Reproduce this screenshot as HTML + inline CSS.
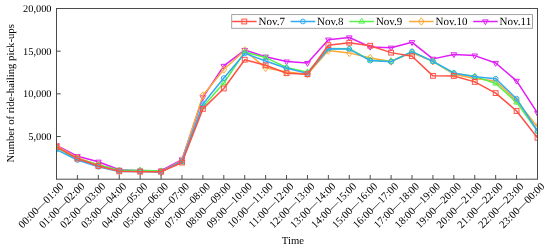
<!DOCTYPE html>
<html><head><meta charset="utf-8"><style>
html,body{margin:0;padding:0;background:#fff;}
svg{display:block;text-rendering:geometricPrecision;}
.t{font-family:"Liberation Serif","Times New Roman",serif;font-size:11px;fill:#000;}
.xt{font-family:"Liberation Serif","Times New Roman",serif;font-size:10.67px;fill:#000;}
.yt{font-family:"Liberation Serif","Times New Roman",serif;font-size:10.35px;fill:#000;}
.yl{font-family:"Liberation Serif","Times New Roman",serif;font-size:10.67px;fill:#000;}
.l{font-family:"Liberation Serif","Times New Roman",serif;font-size:10.67px;fill:#000;}
</style></head><body>
<svg width="550" height="249" viewBox="0 0 550 249">
<defs><clipPath id="ax"><rect x="56.5" y="8.5" width="481.0" height="170.7"/></clipPath></defs>
<g clip-path="url(#ax)">
<polyline points="56.50,145.32 77.41,156.16 98.33,161.79 119.24,169.81 140.15,170.66 161.07,170.66 181.98,159.57 202.89,97.43 223.80,65.94 244.72,50.07 265.63,56.72 286.54,61.59 307.46,63.12 328.37,39.65 349.28,37.52 370.20,46.91 391.11,47.76 412.02,42.30 432.93,58.86 453.85,54.42 474.76,55.61 495.67,63.04 516.59,80.88 537.50,113.05" fill="none" stroke="#e01ef5" stroke-width="1.5" stroke-linejoin="round"/>
<polygon points="56.50,148.55 53.70,143.70 59.30,143.70" fill="none" stroke="#e01ef5" stroke-width="1.0"/>
<polygon points="77.41,159.39 74.61,154.54 80.21,154.54" fill="none" stroke="#e01ef5" stroke-width="1.0"/>
<polygon points="98.33,165.02 95.53,160.17 101.13,160.17" fill="none" stroke="#e01ef5" stroke-width="1.0"/>
<polygon points="119.24,173.04 116.44,168.19 122.04,168.19" fill="none" stroke="#e01ef5" stroke-width="1.0"/>
<polygon points="140.15,173.90 137.35,169.05 142.95,169.05" fill="none" stroke="#e01ef5" stroke-width="1.0"/>
<polygon points="161.07,173.90 158.27,169.05 163.87,169.05" fill="none" stroke="#e01ef5" stroke-width="1.0"/>
<polygon points="181.98,162.80 179.18,157.95 184.78,157.95" fill="none" stroke="#e01ef5" stroke-width="1.0"/>
<polygon points="202.89,100.67 200.09,95.82 205.69,95.82" fill="none" stroke="#e01ef5" stroke-width="1.0"/>
<polygon points="223.80,69.17 221.00,64.32 226.60,64.32" fill="none" stroke="#e01ef5" stroke-width="1.0"/>
<polygon points="244.72,53.30 241.92,48.45 247.52,48.45" fill="none" stroke="#e01ef5" stroke-width="1.0"/>
<polygon points="265.63,59.96 262.83,55.11 268.43,55.11" fill="none" stroke="#e01ef5" stroke-width="1.0"/>
<polygon points="286.54,64.82 283.74,59.97 289.34,59.97" fill="none" stroke="#e01ef5" stroke-width="1.0"/>
<polygon points="307.46,66.36 304.66,61.51 310.26,61.51" fill="none" stroke="#e01ef5" stroke-width="1.0"/>
<polygon points="328.37,42.89 325.57,38.04 331.17,38.04" fill="none" stroke="#e01ef5" stroke-width="1.0"/>
<polygon points="349.28,40.75 346.48,35.90 352.08,35.90" fill="none" stroke="#e01ef5" stroke-width="1.0"/>
<polygon points="370.20,50.14 367.40,45.29 373.00,45.29" fill="none" stroke="#e01ef5" stroke-width="1.0"/>
<polygon points="391.11,50.99 388.31,46.14 393.91,46.14" fill="none" stroke="#e01ef5" stroke-width="1.0"/>
<polygon points="412.02,45.53 409.22,40.68 414.82,40.68" fill="none" stroke="#e01ef5" stroke-width="1.0"/>
<polygon points="432.93,62.09 430.13,57.24 435.73,57.24" fill="none" stroke="#e01ef5" stroke-width="1.0"/>
<polygon points="453.85,57.65 451.05,52.80 456.65,52.80" fill="none" stroke="#e01ef5" stroke-width="1.0"/>
<polygon points="474.76,58.85 471.96,54.00 477.56,54.00" fill="none" stroke="#e01ef5" stroke-width="1.0"/>
<polygon points="495.67,66.27 492.87,61.42 498.47,61.42" fill="none" stroke="#e01ef5" stroke-width="1.0"/>
<polygon points="516.59,84.11 513.79,79.26 519.39,79.26" fill="none" stroke="#e01ef5" stroke-width="1.0"/>
<polygon points="537.50,116.29 534.70,111.44 540.30,111.44" fill="none" stroke="#e01ef5" stroke-width="1.0"/>
<polyline points="56.50,145.91 77.41,157.86 98.33,164.69 119.24,171.09 140.15,171.09 161.07,171.95 181.98,160.42 202.89,95.56 223.80,69.53 244.72,50.49 265.63,67.82 286.54,72.09 307.46,74.22 328.37,50.49 349.28,52.88 370.20,58.00 391.11,61.42 412.02,52.88 432.93,61.33 453.85,74.22 474.76,78.49 495.67,81.05 516.59,100.68 537.50,126.71" fill="none" stroke="#faa838" stroke-width="1.5" stroke-linejoin="round"/>
<polygon points="56.50,142.21 59.40,145.91 56.50,149.61 53.60,145.91" fill="none" stroke="#faa838" stroke-width="1.0"/>
<polygon points="77.41,154.16 80.31,157.86 77.41,161.56 74.51,157.86" fill="none" stroke="#faa838" stroke-width="1.0"/>
<polygon points="98.33,160.99 101.23,164.69 98.33,168.39 95.43,164.69" fill="none" stroke="#faa838" stroke-width="1.0"/>
<polygon points="119.24,167.39 122.14,171.09 119.24,174.79 116.34,171.09" fill="none" stroke="#faa838" stroke-width="1.0"/>
<polygon points="140.15,167.39 143.05,171.09 140.15,174.79 137.25,171.09" fill="none" stroke="#faa838" stroke-width="1.0"/>
<polygon points="161.07,168.25 163.97,171.95 161.07,175.65 158.17,171.95" fill="none" stroke="#faa838" stroke-width="1.0"/>
<polygon points="181.98,156.72 184.88,160.42 181.98,164.12 179.08,160.42" fill="none" stroke="#faa838" stroke-width="1.0"/>
<polygon points="202.89,91.86 205.79,95.56 202.89,99.26 199.99,95.56" fill="none" stroke="#faa838" stroke-width="1.0"/>
<polygon points="223.80,65.83 226.70,69.53 223.80,73.23 220.90,69.53" fill="none" stroke="#faa838" stroke-width="1.0"/>
<polygon points="244.72,46.79 247.62,50.49 244.72,54.19 241.82,50.49" fill="none" stroke="#faa838" stroke-width="1.0"/>
<polygon points="265.63,64.12 268.53,67.82 265.63,71.52 262.73,67.82" fill="none" stroke="#faa838" stroke-width="1.0"/>
<polygon points="286.54,68.39 289.44,72.09 286.54,75.79 283.64,72.09" fill="none" stroke="#faa838" stroke-width="1.0"/>
<polygon points="307.46,70.52 310.36,74.22 307.46,77.92 304.56,74.22" fill="none" stroke="#faa838" stroke-width="1.0"/>
<polygon points="328.37,46.79 331.27,50.49 328.37,54.19 325.47,50.49" fill="none" stroke="#faa838" stroke-width="1.0"/>
<polygon points="349.28,49.18 352.18,52.88 349.28,56.58 346.38,52.88" fill="none" stroke="#faa838" stroke-width="1.0"/>
<polygon points="370.20,54.30 373.10,58.00 370.20,61.70 367.30,58.00" fill="none" stroke="#faa838" stroke-width="1.0"/>
<polygon points="391.11,57.72 394.01,61.42 391.11,65.12 388.21,61.42" fill="none" stroke="#faa838" stroke-width="1.0"/>
<polygon points="412.02,49.18 414.92,52.88 412.02,56.58 409.12,52.88" fill="none" stroke="#faa838" stroke-width="1.0"/>
<polygon points="432.93,57.63 435.83,61.33 432.93,65.03 430.03,61.33" fill="none" stroke="#faa838" stroke-width="1.0"/>
<polygon points="453.85,70.52 456.75,74.22 453.85,77.92 450.95,74.22" fill="none" stroke="#faa838" stroke-width="1.0"/>
<polygon points="474.76,74.79 477.66,78.49 474.76,82.19 471.86,78.49" fill="none" stroke="#faa838" stroke-width="1.0"/>
<polygon points="495.67,77.35 498.57,81.05 495.67,84.75 492.77,81.05" fill="none" stroke="#faa838" stroke-width="1.0"/>
<polygon points="516.59,96.98 519.49,100.68 516.59,104.38 513.69,100.68" fill="none" stroke="#faa838" stroke-width="1.0"/>
<polygon points="537.50,123.01 540.40,126.71 537.50,130.41 534.60,126.71" fill="none" stroke="#faa838" stroke-width="1.0"/>
<polyline points="56.50,147.62 77.41,158.72 98.33,164.69 119.24,170.24 140.15,170.24 161.07,171.09 181.98,162.13 202.89,106.65 223.80,83.01 244.72,52.03 265.63,57.58 286.54,67.39 307.46,72.17 328.37,48.53 349.28,48.70 370.20,60.14 391.11,61.42 412.02,51.69 432.93,61.33 453.85,73.37 474.76,76.35 495.67,83.52 516.59,102.38 537.50,131.40" fill="none" stroke="#55f048" stroke-width="1.5" stroke-linejoin="round"/>
<polygon points="56.50,144.39 53.70,149.24 59.30,149.24" fill="none" stroke="#55f048" stroke-width="1.0"/>
<polygon points="77.41,155.48 74.61,160.33 80.21,160.33" fill="none" stroke="#55f048" stroke-width="1.0"/>
<polygon points="98.33,161.46 95.53,166.31 101.13,166.31" fill="none" stroke="#55f048" stroke-width="1.0"/>
<polygon points="119.24,167.01 116.44,171.85 122.04,171.85" fill="none" stroke="#55f048" stroke-width="1.0"/>
<polygon points="140.15,167.01 137.35,171.85 142.95,171.85" fill="none" stroke="#55f048" stroke-width="1.0"/>
<polygon points="161.07,167.86 158.27,172.71 163.87,172.71" fill="none" stroke="#55f048" stroke-width="1.0"/>
<polygon points="181.98,158.90 179.18,163.75 184.78,163.75" fill="none" stroke="#55f048" stroke-width="1.0"/>
<polygon points="202.89,103.42 200.09,108.27 205.69,108.27" fill="none" stroke="#55f048" stroke-width="1.0"/>
<polygon points="223.80,79.78 221.00,84.63 226.60,84.63" fill="none" stroke="#55f048" stroke-width="1.0"/>
<polygon points="244.72,48.80 241.92,53.65 247.52,53.65" fill="none" stroke="#55f048" stroke-width="1.0"/>
<polygon points="265.63,54.34 262.83,59.19 268.43,59.19" fill="none" stroke="#55f048" stroke-width="1.0"/>
<polygon points="286.54,64.16 283.74,69.01 289.34,69.01" fill="none" stroke="#55f048" stroke-width="1.0"/>
<polygon points="307.46,68.94 304.66,73.79 310.26,73.79" fill="none" stroke="#55f048" stroke-width="1.0"/>
<polygon points="328.37,45.30 325.57,50.15 331.17,50.15" fill="none" stroke="#55f048" stroke-width="1.0"/>
<polygon points="349.28,45.47 346.48,50.32 352.08,50.32" fill="none" stroke="#55f048" stroke-width="1.0"/>
<polygon points="370.20,56.90 367.40,61.75 373.00,61.75" fill="none" stroke="#55f048" stroke-width="1.0"/>
<polygon points="391.11,58.18 388.31,63.03 393.91,63.03" fill="none" stroke="#55f048" stroke-width="1.0"/>
<polygon points="412.02,48.45 409.22,53.30 414.82,53.30" fill="none" stroke="#55f048" stroke-width="1.0"/>
<polygon points="432.93,58.10 430.13,62.95 435.73,62.95" fill="none" stroke="#55f048" stroke-width="1.0"/>
<polygon points="453.85,70.13 451.05,74.98 456.65,74.98" fill="none" stroke="#55f048" stroke-width="1.0"/>
<polygon points="474.76,73.12 471.96,77.97 477.56,77.97" fill="none" stroke="#55f048" stroke-width="1.0"/>
<polygon points="495.67,80.29 492.87,85.14 498.47,85.14" fill="none" stroke="#55f048" stroke-width="1.0"/>
<polygon points="516.59,99.15 513.79,104.00 519.39,104.00" fill="none" stroke="#55f048" stroke-width="1.0"/>
<polygon points="537.50,128.17 534.70,133.02 540.30,133.02" fill="none" stroke="#55f048" stroke-width="1.0"/>
<polyline points="56.50,149.58 77.41,160.00 98.33,166.82 119.24,171.52 140.15,171.52 161.07,171.95 181.98,161.28 202.89,104.09 223.80,78.06 244.72,53.39 265.63,60.99 286.54,68.24 307.46,73.37 328.37,48.70 349.28,49.04 370.20,60.56 391.11,61.67 412.02,51.69 432.93,61.33 453.85,72.94 474.76,76.78 495.67,78.74 516.59,98.71 537.50,130.98" fill="none" stroke="#30aaf2" stroke-width="1.5" stroke-linejoin="round"/>
<circle cx="56.50" cy="149.58" r="2.40" fill="none" stroke="#30aaf2" stroke-width="1.0"/>
<circle cx="77.41" cy="160.00" r="2.40" fill="none" stroke="#30aaf2" stroke-width="1.0"/>
<circle cx="98.33" cy="166.82" r="2.40" fill="none" stroke="#30aaf2" stroke-width="1.0"/>
<circle cx="119.24" cy="171.52" r="2.40" fill="none" stroke="#30aaf2" stroke-width="1.0"/>
<circle cx="140.15" cy="171.52" r="2.40" fill="none" stroke="#30aaf2" stroke-width="1.0"/>
<circle cx="161.07" cy="171.95" r="2.40" fill="none" stroke="#30aaf2" stroke-width="1.0"/>
<circle cx="181.98" cy="161.28" r="2.40" fill="none" stroke="#30aaf2" stroke-width="1.0"/>
<circle cx="202.89" cy="104.09" r="2.40" fill="none" stroke="#30aaf2" stroke-width="1.0"/>
<circle cx="223.80" cy="78.06" r="2.40" fill="none" stroke="#30aaf2" stroke-width="1.0"/>
<circle cx="244.72" cy="53.39" r="2.40" fill="none" stroke="#30aaf2" stroke-width="1.0"/>
<circle cx="265.63" cy="60.99" r="2.40" fill="none" stroke="#30aaf2" stroke-width="1.0"/>
<circle cx="286.54" cy="68.24" r="2.40" fill="none" stroke="#30aaf2" stroke-width="1.0"/>
<circle cx="307.46" cy="73.37" r="2.40" fill="none" stroke="#30aaf2" stroke-width="1.0"/>
<circle cx="328.37" cy="48.70" r="2.40" fill="none" stroke="#30aaf2" stroke-width="1.0"/>
<circle cx="349.28" cy="49.04" r="2.40" fill="none" stroke="#30aaf2" stroke-width="1.0"/>
<circle cx="370.20" cy="60.56" r="2.40" fill="none" stroke="#30aaf2" stroke-width="1.0"/>
<circle cx="391.11" cy="61.67" r="2.40" fill="none" stroke="#30aaf2" stroke-width="1.0"/>
<circle cx="412.02" cy="51.69" r="2.40" fill="none" stroke="#30aaf2" stroke-width="1.0"/>
<circle cx="432.93" cy="61.33" r="2.40" fill="none" stroke="#30aaf2" stroke-width="1.0"/>
<circle cx="453.85" cy="72.94" r="2.40" fill="none" stroke="#30aaf2" stroke-width="1.0"/>
<circle cx="474.76" cy="76.78" r="2.40" fill="none" stroke="#30aaf2" stroke-width="1.0"/>
<circle cx="495.67" cy="78.74" r="2.40" fill="none" stroke="#30aaf2" stroke-width="1.0"/>
<circle cx="516.59" cy="98.71" r="2.40" fill="none" stroke="#30aaf2" stroke-width="1.0"/>
<circle cx="537.50" cy="130.98" r="2.40" fill="none" stroke="#30aaf2" stroke-width="1.0"/>
<polyline points="56.50,146.94 77.41,158.55 98.33,165.97 119.24,171.26 140.15,171.69 161.07,171.69 181.98,162.56 202.89,108.87 223.80,88.47 244.72,59.71 265.63,65.26 286.54,73.20 307.46,74.22 328.37,45.20 349.28,42.73 370.20,45.71 391.11,52.63 412.02,56.21 432.93,75.84 453.85,75.93 474.76,81.90 495.67,93.08 516.59,111.01 537.50,137.81" fill="none" stroke="#ff5046" stroke-width="1.5" stroke-linejoin="round"/>
<rect x="54.10" y="144.54" width="4.80" height="4.80" fill="none" stroke="#ff5046" stroke-width="1.0"/>
<rect x="75.01" y="156.15" width="4.80" height="4.80" fill="none" stroke="#ff5046" stroke-width="1.0"/>
<rect x="95.93" y="163.57" width="4.80" height="4.80" fill="none" stroke="#ff5046" stroke-width="1.0"/>
<rect x="116.84" y="168.86" width="4.80" height="4.80" fill="none" stroke="#ff5046" stroke-width="1.0"/>
<rect x="137.75" y="169.29" width="4.80" height="4.80" fill="none" stroke="#ff5046" stroke-width="1.0"/>
<rect x="158.67" y="169.29" width="4.80" height="4.80" fill="none" stroke="#ff5046" stroke-width="1.0"/>
<rect x="179.58" y="160.16" width="4.80" height="4.80" fill="none" stroke="#ff5046" stroke-width="1.0"/>
<rect x="200.49" y="106.47" width="4.80" height="4.80" fill="none" stroke="#ff5046" stroke-width="1.0"/>
<rect x="221.40" y="86.07" width="4.80" height="4.80" fill="none" stroke="#ff5046" stroke-width="1.0"/>
<rect x="242.32" y="57.31" width="4.80" height="4.80" fill="none" stroke="#ff5046" stroke-width="1.0"/>
<rect x="263.23" y="62.86" width="4.80" height="4.80" fill="none" stroke="#ff5046" stroke-width="1.0"/>
<rect x="284.14" y="70.80" width="4.80" height="4.80" fill="none" stroke="#ff5046" stroke-width="1.0"/>
<rect x="305.06" y="71.82" width="4.80" height="4.80" fill="none" stroke="#ff5046" stroke-width="1.0"/>
<rect x="325.97" y="42.80" width="4.80" height="4.80" fill="none" stroke="#ff5046" stroke-width="1.0"/>
<rect x="346.88" y="40.33" width="4.80" height="4.80" fill="none" stroke="#ff5046" stroke-width="1.0"/>
<rect x="367.80" y="43.31" width="4.80" height="4.80" fill="none" stroke="#ff5046" stroke-width="1.0"/>
<rect x="388.71" y="50.23" width="4.80" height="4.80" fill="none" stroke="#ff5046" stroke-width="1.0"/>
<rect x="409.62" y="53.81" width="4.80" height="4.80" fill="none" stroke="#ff5046" stroke-width="1.0"/>
<rect x="430.53" y="73.44" width="4.80" height="4.80" fill="none" stroke="#ff5046" stroke-width="1.0"/>
<rect x="451.45" y="73.53" width="4.80" height="4.80" fill="none" stroke="#ff5046" stroke-width="1.0"/>
<rect x="472.36" y="79.50" width="4.80" height="4.80" fill="none" stroke="#ff5046" stroke-width="1.0"/>
<rect x="493.27" y="90.68" width="4.80" height="4.80" fill="none" stroke="#ff5046" stroke-width="1.0"/>
<rect x="514.19" y="108.61" width="4.80" height="4.80" fill="none" stroke="#ff5046" stroke-width="1.0"/>
<rect x="535.10" y="135.41" width="4.80" height="4.80" fill="none" stroke="#ff5046" stroke-width="1.0"/>
</g>
<rect x="56.5" y="8.5" width="481.0" height="170.7" fill="none" stroke="#4a4a4a" stroke-width="1"/>
<line x1="56.5" y1="136.52" x2="60.7" y2="136.52" stroke="#4a4a4a" stroke-width="1"/>
<text x="51.5" y="139.92" text-anchor="end" class="yt">5,000</text>
<line x1="56.5" y1="93.85" x2="60.7" y2="93.85" stroke="#4a4a4a" stroke-width="1"/>
<text x="51.5" y="97.25" text-anchor="end" class="yt">10,000</text>
<line x1="56.5" y1="51.17" x2="60.7" y2="51.17" stroke="#4a4a4a" stroke-width="1"/>
<text x="51.5" y="54.57" text-anchor="end" class="yt">15,000</text>
<line x1="56.5" y1="8.50" x2="60.7" y2="8.50" stroke="#4a4a4a" stroke-width="1"/>
<text x="51.5" y="11.90" text-anchor="end" class="yt">20,000</text>
<line x1="56.50" y1="179.2" x2="56.50" y2="175.0" stroke="#4a4a4a" stroke-width="1"/>
<text transform="translate(64.30,186.90) rotate(-45)" text-anchor="end" class="xt">00:00—01:00</text>
<line x1="77.41" y1="179.2" x2="77.41" y2="175.0" stroke="#4a4a4a" stroke-width="1"/>
<text transform="translate(85.21,186.90) rotate(-45)" text-anchor="end" class="xt">01:00—02:00</text>
<line x1="98.33" y1="179.2" x2="98.33" y2="175.0" stroke="#4a4a4a" stroke-width="1"/>
<text transform="translate(106.13,186.90) rotate(-45)" text-anchor="end" class="xt">02:00—03:00</text>
<line x1="119.24" y1="179.2" x2="119.24" y2="175.0" stroke="#4a4a4a" stroke-width="1"/>
<text transform="translate(127.04,186.90) rotate(-45)" text-anchor="end" class="xt">03:00—04:00</text>
<line x1="140.15" y1="179.2" x2="140.15" y2="175.0" stroke="#4a4a4a" stroke-width="1"/>
<text transform="translate(147.95,186.90) rotate(-45)" text-anchor="end" class="xt">04:00—05:00</text>
<line x1="161.07" y1="179.2" x2="161.07" y2="175.0" stroke="#4a4a4a" stroke-width="1"/>
<text transform="translate(168.87,186.90) rotate(-45)" text-anchor="end" class="xt">05:00—06:00</text>
<line x1="181.98" y1="179.2" x2="181.98" y2="175.0" stroke="#4a4a4a" stroke-width="1"/>
<text transform="translate(189.78,186.90) rotate(-45)" text-anchor="end" class="xt">06:00—07:00</text>
<line x1="202.89" y1="179.2" x2="202.89" y2="175.0" stroke="#4a4a4a" stroke-width="1"/>
<text transform="translate(210.69,186.90) rotate(-45)" text-anchor="end" class="xt">07:00—08:00</text>
<line x1="223.80" y1="179.2" x2="223.80" y2="175.0" stroke="#4a4a4a" stroke-width="1"/>
<text transform="translate(231.60,186.90) rotate(-45)" text-anchor="end" class="xt">08:00—09:00</text>
<line x1="244.72" y1="179.2" x2="244.72" y2="175.0" stroke="#4a4a4a" stroke-width="1"/>
<text transform="translate(252.52,186.90) rotate(-45)" text-anchor="end" class="xt">09:00—10:00</text>
<line x1="265.63" y1="179.2" x2="265.63" y2="175.0" stroke="#4a4a4a" stroke-width="1"/>
<text transform="translate(273.43,186.90) rotate(-45)" text-anchor="end" class="xt">10:00—11:00</text>
<line x1="286.54" y1="179.2" x2="286.54" y2="175.0" stroke="#4a4a4a" stroke-width="1"/>
<text transform="translate(294.34,186.90) rotate(-45)" text-anchor="end" class="xt">11:00—12:00</text>
<line x1="307.46" y1="179.2" x2="307.46" y2="175.0" stroke="#4a4a4a" stroke-width="1"/>
<text transform="translate(315.26,186.90) rotate(-45)" text-anchor="end" class="xt">12:00—13:00</text>
<line x1="328.37" y1="179.2" x2="328.37" y2="175.0" stroke="#4a4a4a" stroke-width="1"/>
<text transform="translate(336.17,186.90) rotate(-45)" text-anchor="end" class="xt">13:00—14:00</text>
<line x1="349.28" y1="179.2" x2="349.28" y2="175.0" stroke="#4a4a4a" stroke-width="1"/>
<text transform="translate(357.08,186.90) rotate(-45)" text-anchor="end" class="xt">14:00—15:00</text>
<line x1="370.20" y1="179.2" x2="370.20" y2="175.0" stroke="#4a4a4a" stroke-width="1"/>
<text transform="translate(378.00,186.90) rotate(-45)" text-anchor="end" class="xt">15:00—16:00</text>
<line x1="391.11" y1="179.2" x2="391.11" y2="175.0" stroke="#4a4a4a" stroke-width="1"/>
<text transform="translate(398.91,186.90) rotate(-45)" text-anchor="end" class="xt">16:00—17:00</text>
<line x1="412.02" y1="179.2" x2="412.02" y2="175.0" stroke="#4a4a4a" stroke-width="1"/>
<text transform="translate(419.82,186.90) rotate(-45)" text-anchor="end" class="xt">17:00—18:00</text>
<line x1="432.93" y1="179.2" x2="432.93" y2="175.0" stroke="#4a4a4a" stroke-width="1"/>
<text transform="translate(440.73,186.90) rotate(-45)" text-anchor="end" class="xt">18:00—19:00</text>
<line x1="453.85" y1="179.2" x2="453.85" y2="175.0" stroke="#4a4a4a" stroke-width="1"/>
<text transform="translate(461.65,186.90) rotate(-45)" text-anchor="end" class="xt">19:00—20:00</text>
<line x1="474.76" y1="179.2" x2="474.76" y2="175.0" stroke="#4a4a4a" stroke-width="1"/>
<text transform="translate(482.56,186.90) rotate(-45)" text-anchor="end" class="xt">20:00—21:00</text>
<line x1="495.67" y1="179.2" x2="495.67" y2="175.0" stroke="#4a4a4a" stroke-width="1"/>
<text transform="translate(503.47,186.90) rotate(-45)" text-anchor="end" class="xt">21:00—22:00</text>
<line x1="516.59" y1="179.2" x2="516.59" y2="175.0" stroke="#4a4a4a" stroke-width="1"/>
<text transform="translate(524.39,186.90) rotate(-45)" text-anchor="end" class="xt">22:00—23:00</text>
<line x1="537.50" y1="179.2" x2="537.50" y2="175.0" stroke="#4a4a4a" stroke-width="1"/>
<text transform="translate(545.30,186.90) rotate(-45)" text-anchor="end" class="xt">23:00—00:00</text>
<text x="292.9" y="244.1" text-anchor="middle" class="l">Time</text>
<text transform="translate(14.2,93.3) rotate(-90)" text-anchor="middle" class="yl">Number of ride-hailing pick-ups</text>
<rect x="231.7" y="14.6" width="300.8" height="13.7" fill="#fff" stroke="#999" stroke-width="0.9"/>
<line x1="232.1" y1="21.5" x2="256.6" y2="21.5" stroke="#ff5046" stroke-width="1.5"/>
<rect x="241.90" y="19.10" width="4.80" height="4.80" fill="none" stroke="#ff5046" stroke-width="1.0"/>
<text x="258.50" y="24.6" class="t">Nov.7</text>
<line x1="290.7" y1="21.5" x2="315.2" y2="21.5" stroke="#30aaf2" stroke-width="1.5"/>
<circle cx="302.90" cy="21.50" r="2.40" fill="none" stroke="#30aaf2" stroke-width="1.0"/>
<text x="317.10" y="24.6" class="t">Nov.8</text>
<line x1="349.5" y1="21.5" x2="374.0" y2="21.5" stroke="#55f048" stroke-width="1.5"/>
<polygon points="361.70,18.27 358.90,23.12 364.50,23.12" fill="none" stroke="#55f048" stroke-width="1.0"/>
<text x="375.90" y="24.6" class="t">Nov.9</text>
<line x1="409.1" y1="21.5" x2="433.6" y2="21.5" stroke="#faa838" stroke-width="1.5"/>
<polygon points="421.30,17.80 424.20,21.50 421.30,25.20 418.40,21.50" fill="none" stroke="#faa838" stroke-width="1.0"/>
<text x="435.50" y="24.6" class="t">Nov.10</text>
<line x1="473.2" y1="21.5" x2="497.7" y2="21.5" stroke="#e01ef5" stroke-width="1.5"/>
<polygon points="485.40,24.73 482.60,19.88 488.20,19.88" fill="none" stroke="#e01ef5" stroke-width="1.0"/>
<text x="499.60" y="24.6" class="t">Nov.11</text>
</svg>
</body></html>
